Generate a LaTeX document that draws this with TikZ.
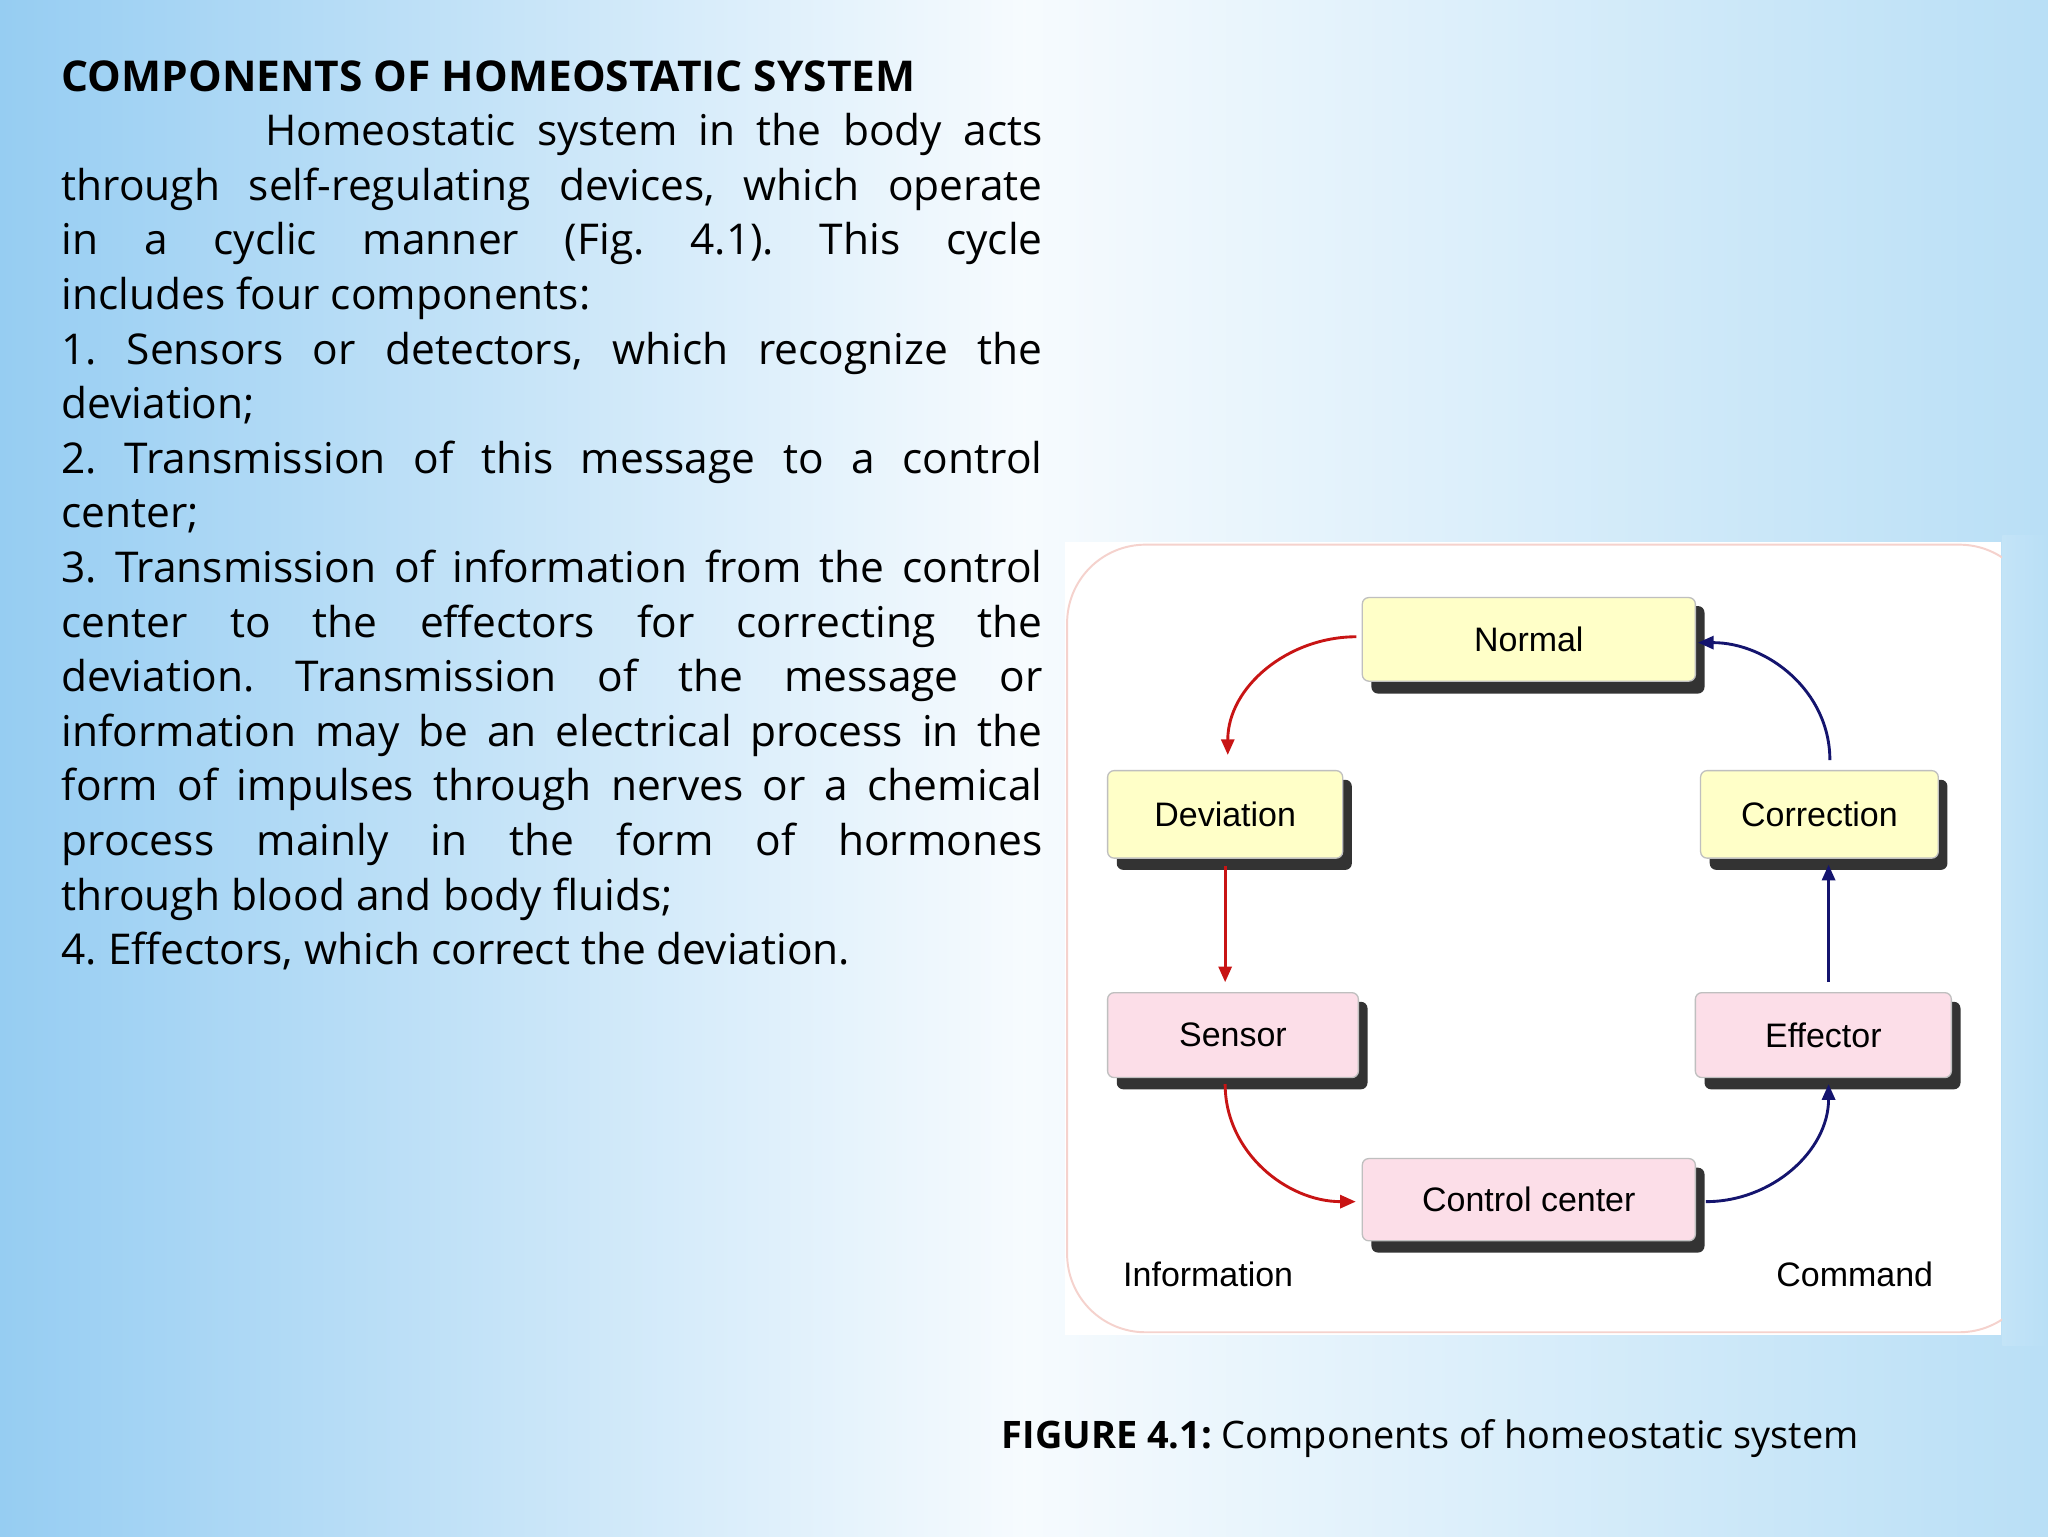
\documentclass[tikz,border=0pt]{standalone}
\usepackage{fontspec}
\setmainfont{Open Sans}
\newfontfamily\arialf{Liberation Sans}
\usetikzlibrary{arrows.meta}
\definecolor{bgA}{RGB}{150,205,242}
\definecolor{bgB}{RGB}{185,223,246}
\definecolor{ybox}{RGB}{255,255,200}
\definecolor{pbox}{RGB}{252,222,232}
\definecolor{redarr}{RGB}{200,20,20}
\definecolor{bluearr}{RGB}{20,20,110}
\definecolor{frame}{RGB}{245,210,205}
\tikzset{
  cbox/.style={draw=black!25, line width=1pt, rounded corners=5pt, minimum height=64pt, font=\arialf\fontsize{26}{30}\selectfont, inner sep=0pt},
  shadow/.style={fill=black!80, rounded corners=5pt},
  rarr/.style={draw=redarr, line width=2.2pt, -{Triangle[length=12pt,width=10pt]}},
  barr/.style={draw=bluearr, line width=2.2pt, -{Triangle[length=12pt,width=10pt]}},
}
\frenchspacing
\begin{document}
\begin{tikzpicture}[x=1pt,y=-1pt]
\useasboundingbox (0,0) rectangle (1568,1176);
\shade[left color=bgA, right color=bgB, middle color=white!92!bgA] (0,0) rectangle (1568,1176);
% text
\node[anchor=north west, text width=751pt, align=justify, inner sep=0pt, font=\fontsize{32.5}{41.8}\selectfont] (txt) at (47,46) {%
\textbf{COMPONENTS OF HOMEOSTATIC SYSTEM}\\
\hspace*{156pt}Homeostatic system in the body acts\linebreak
through self-regulating devices, which operate\linebreak
in a cyclic manner (Fig. 4.1). This cycle\linebreak
includes four components:\\
1. Sensors or detectors, which recognize the\linebreak
deviation;\\
2. Transmission of this message to a control\linebreak
center;\\
3. Transmission of information from the control\linebreak
center to the effectors for correcting the\linebreak
deviation. Transmission of the message or\linebreak
information may be an electrical process in the\linebreak
form of impulses through nerves or a chemical\linebreak
process mainly in the form of hormones\linebreak
through blood and body fluids;\\
4. Effectors, which correct the deviation.};
% diagram panel
\fill[white] (815,415) rectangle (1532,1022);
\draw[frame, line width=1.5pt, rounded corners=60pt] (817,417) rectangle (1560,1020);
\shade[left color=bgB!85!white, right color=bgB] (1533,410) rectangle (1568,1030);
% boxes with shadows
\foreach \x/\y/\X/\Y in {1043/457/1298/522, 848/590/1028/657, 1302/590/1484/657, 848/760/1040/825, 1298/760/1494/825, 1043/887/1298/950}
  \fill[shadow] (\x+7,\y+7) rectangle (\X+7,\Y+9);
\node[cbox, fill=ybox, minimum width=255pt] (normal) at (1170.5,489.5) {Normal};
\node[cbox, fill=ybox, minimum width=180pt, minimum height=67pt] (dev) at (938,623.5) {Deviation};
\node[cbox, fill=ybox, minimum width=182pt, minimum height=67pt] (corr) at (1393,623.5) {Correction};
\node[cbox, fill=pbox, minimum width=192pt, minimum height=65pt] (sensor) at (944,792.5) {Sensor};
\node[cbox, fill=pbox, minimum width=196pt, minimum height=65pt] (eff) at (1396,792.5) {Effector};
\node[cbox, fill=pbox, minimum width=255pt, minimum height=63pt] (cc) at (1170.5,918.5) {Control center};
\node[font=\arialf\fontsize{26}{30}\selectfont] (info) at (925,976) {Information};
\node[font=\arialf\fontsize{26}{30}\selectfont] (cmd) at (1420,976) {Command};
% arrows
\draw[rarr] (normal.west) ++(-4,-2) to[out=180,in=90] (940,578);
\draw[rarr] (938,663) -- (938,752);
\draw[rarr] (938,830) to[out=-90,in=180] (1038,920);
\draw[barr] (1306,920) to[out=0,in=-90] (1400,830);
\draw[barr] (1400,752) -- (1400,662);
\draw[barr] (1401,582) to[out=90,in=0] (1300,492);
% caption
\node[font=\fontsize{29}{34}\selectfont] (cap) at (1095,1101) {\textbf{FIGURE 4.1:} Components of homeostatic system};
\end{tikzpicture}
\end{document}
